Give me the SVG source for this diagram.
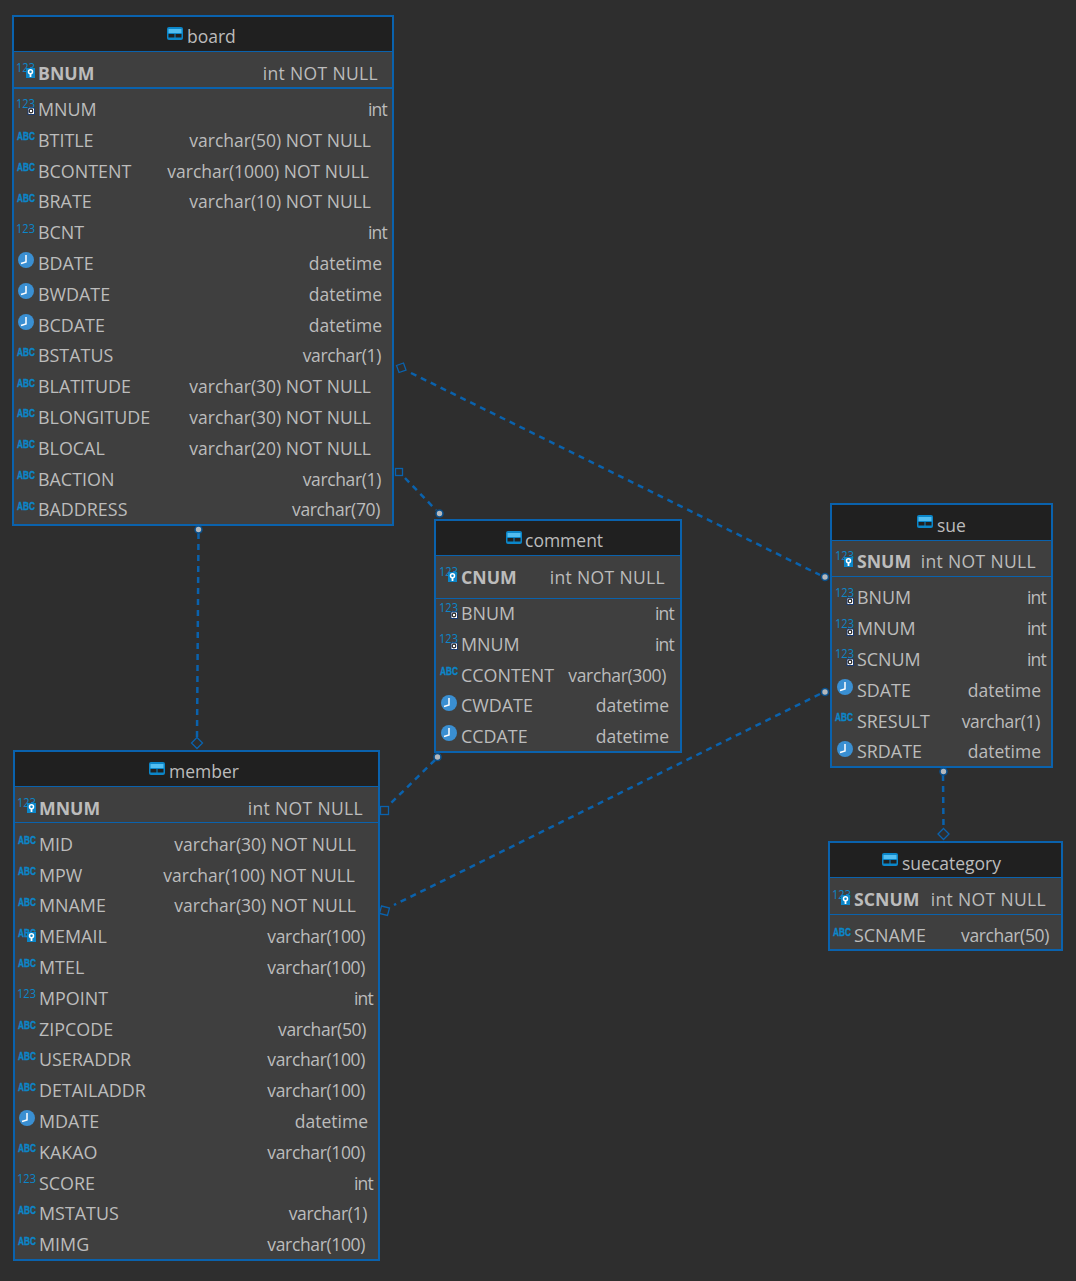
<svg xmlns="http://www.w3.org/2000/svg" width="1076" height="1281" viewBox="0 0 1076 1281">
<style>
text{font-family:"Open Sans","Noto Sans","Liberation Sans",sans-serif;font-size:17.5px;fill:#bcbcbc}
.f{font-size:17.9px}
.t{text-anchor:end}
.v{letter-spacing:-.36px}
.i{letter-spacing:-.8px}
.n{letter-spacing:.35px}
.pk{font-weight:700;font-size:17.7px}
.box{fill:#3f3f3f;stroke:#0a62ad;stroke-width:2}
.hd{fill:#202020}
.sep{stroke:#0a62ad;stroke-width:1.2;fill:none}
.ic{font-size:12px;fill:#0b86c9}
.ab{font-family:"Liberation Sans",sans-serif;font-size:10px;font-weight:700;fill:#0b86c9;stroke:#0b86c9;stroke-width:.35}
.conn{stroke:#0a62ad;stroke-width:2.500;stroke-dasharray:6 5;fill:none}
.end{stroke:#0a62ad;stroke-width:1.300;fill:none}
.dot{fill:#b4b8bc;stroke:#0a4f8a;stroke-width:1.600}
</style>
<defs>
<g id="tb"><rect x="0" y="0" width="16" height="13" rx="2" fill="#0b86c9"/><rect x="1.500" y="2" width="13" height="4" fill="#52bdf0"/><rect x="1.500" y="7" width="6" height="3.500" fill="#202020"/><rect x="8.500" y="7" width="6" height="3.500" fill="#202020"/></g>
<g id="n"><text class="ic" x="0" y="0" textLength="19" lengthAdjust="spacingAndGlyphs">123</text></g>
<g id="a"><text class="ab" x="0" y="0" textLength="18" lengthAdjust="spacingAndGlyphs">ABC</text></g>
<g id="k"><rect x="0" y="-1" width="9" height="10" fill="#0b86c9"/><circle cx="4.500" cy="2.800" r="2" fill="none" stroke="#fff" stroke-width="1.500"/><path d="M4.500 4.500v3.500" stroke="#fff" stroke-width="1.800"/></g>
<g id="f"><rect x="1" y="1" width="6.500" height="6.500" fill="#fff" stroke="#1a3a70"/><circle cx="4" cy="4" r="1.800" fill="none" stroke="#222" stroke-width="1.200"/></g>
<g id="c"><circle cx="8" cy="8" r="8" fill="#3a8fd2"/><path d="M8 3v7l-5 1.500" fill="none" stroke="#fff" stroke-width="1.500"/></g>
</defs>
<rect width="1076" height="1281" fill="#2e2e2e"/>
<g id="connectors">
<path class="conn" d="M411 373L820 575"/><path class="end" d="M396.500 365.500l7-2.500 2.500 7-7 2.500z"/><circle class="dot" cx="825" cy="577" r="3.500"/>
<path class="conn" d="M405 478L436 510"/><rect class="end" x="395.500" y="468.500" width="7" height="7"/><circle class="dot" cx="439.500" cy="513.500" r="3.500"/>
<path class="conn" d="M198.500 533L197 737"/><path class="end" d="M197 737.500l5.500 5.500-5.500 5.500-5.500-5.500z"/><circle class="dot" cx="198.500" cy="529.500" r="3.500"/>
<path class="conn" d="M435 760L389 805"/><rect class="end" x="380.500" y="806.500" width="8" height="8"/><circle class="dot" cx="437.500" cy="757" r="3.500"/>
<path class="conn" d="M820 694L394 905"/><path class="end" d="M381.500 906l8 2-2 7.500-8-2z"/><circle class="dot" cx="825" cy="692" r="3.500"/>
<path class="conn" d="M943 775L943.500 828"/><path class="end" d="M943.500 828.500l5.500 5.500-5.500 5.500-5.500-5.500z"/><circle class="dot" cx="943.500" cy="771.500" r="3.500"/>
</g>
<g id="board">
<rect class="box" x="13" y="16" width="380" height="509"/><rect class="hd" x="14" y="17" width="378" height="34"/><path class="sep" d="M14 51.500H392"/><path class="sep" style="stroke-width:2" d="M14 88H392"/>
<use href="#tb" x="167" y="27"/><text x="187" y="43">board</text>
<use href="#n" x="16" y="72"/><use href="#k" x="26" y="69"/><text class="pk" x="38" y="80">BNUM</text><text class="t n" x="378" y="80">int NOT NULL</text>
<use href="#n" x="16" y="108"/><use href="#f" x="27" y="107"/><text class="f" x="38" y="116">MNUM</text><text class="t i" x="387" y="116">int</text>
<use href="#a" x="17" y="140"/><text class="f" x="38" y="147">BTITLE</text><text class="t" x="371" y="147">varchar(50) NOT NULL</text>
<use href="#a" x="17" y="171"/><text class="f" x="38" y="178">BCONTENT</text><text class="t" x="369" y="178">varchar(1000) NOT NULL</text>
<use href="#a" x="17" y="202"/><text class="f" x="38" y="208">BRATE</text><text class="t" x="371" y="208">varchar(10) NOT NULL</text>
<use href="#n" x="16" y="233"/><text class="f" x="38" y="239">BCNT</text><text class="t i" x="387" y="239">int</text>
<use href="#c" x="18" y="252"/><text class="f" x="38" y="270">BDATE</text><text class="t" x="382" y="270">datetime</text>
<use href="#c" x="18" y="283"/><text class="f" x="38" y="301">BWDATE</text><text class="t" x="382" y="301">datetime</text>
<use href="#c" x="18" y="314"/><text class="f" x="38" y="332">BCDATE</text><text class="t" x="382" y="332">datetime</text>
<use href="#a" x="17" y="356"/><text class="f" x="38" y="362">BSTATUS</text><text class="t v" x="381" y="362">varchar(1)</text>
<use href="#a" x="17" y="387"/><text class="f" x="38" y="393">BLATITUDE</text><text class="t" x="371" y="393">varchar(30) NOT NULL</text>
<use href="#a" x="17" y="417"/><text class="f" x="38" y="424">BLONGITUDE</text><text class="t" x="371" y="424">varchar(30) NOT NULL</text>
<use href="#a" x="17" y="448"/><text class="f" x="38" y="455">BLOCAL</text><text class="t" x="371" y="455">varchar(20) NOT NULL</text>
<use href="#a" x="17" y="479"/><text class="f" x="38" y="486">BACTION</text><text class="t v" x="381" y="486">varchar(1)</text>
<use href="#a" x="17" y="510"/><text class="f" x="38" y="516">BADDRESS</text><text class="t v" x="380" y="516">varchar(70)</text>
</g>
<g id="comment">
<rect class="box" x="435" y="520" width="246" height="232"/><rect class="hd" x="436" y="521" width="244" height="34"/><path class="sep" d="M436 555.500H680M436 598.500H680"/>
<use href="#tb" x="506" y="531"/><text x="525" y="547">comment</text>
<use href="#n" x="439" y="576"/><use href="#k" x="448" y="573"/><text class="pk" x="461" y="584">CNUM</text><text class="t n" x="665" y="584">int NOT NULL</text>
<use href="#n" x="439" y="612"/><use href="#f" x="450" y="611"/><text class="f" x="461" y="620">BNUM</text><text class="t i" x="674" y="620">int</text>
<use href="#n" x="439" y="643"/><use href="#f" x="450" y="642"/><text class="f" x="461" y="651">MNUM</text><text class="t i" x="674" y="651">int</text>
<use href="#a" x="440" y="675"/><text class="f" x="461" y="682">CCONTENT</text><text class="t v" x="666" y="682">varchar(300)</text>
<use href="#c" x="441" y="695"/><text class="f" x="461" y="712">CWDATE</text><text class="t" x="669" y="712">datetime</text>
<use href="#c" x="441" y="725"/><text class="f" x="461" y="743">CCDATE</text><text class="t" x="669" y="743">datetime</text>
</g>
<g id="member">
<rect class="box" x="14" y="751" width="365" height="509"/><rect class="hd" x="15" y="752" width="363" height="34"/><path class="sep" d="M15 786.500H378M15 822.500H378"/>
<use href="#tb" x="149" y="762"/><text x="169" y="778">member</text>
<use href="#n" x="17" y="807"/><use href="#k" x="27" y="804"/><text class="pk" x="39" y="815">MNUM</text><text class="t n" x="363" y="815">int NOT NULL</text>
<use href="#a" x="18" y="844"/><text class="f" x="39" y="851">MID</text><text class="t" x="356" y="851">varchar(30) NOT NULL</text>
<use href="#a" x="18" y="875"/><text class="f" x="39" y="882">MPW</text><text class="t" x="355" y="882">varchar(100) NOT NULL</text>
<use href="#a" x="18" y="906"/><text class="f" x="39" y="912">MNAME</text><text class="t" x="356" y="912">varchar(30) NOT NULL</text>
<use href="#a" x="18" y="937"/><use href="#k" x="27" y="933"/><text class="f" x="39" y="943">MEMAIL</text><text class="t v" x="365" y="943">varchar(100)</text>
<use href="#a" x="18" y="967"/><text class="f" x="39" y="974">MTEL</text><text class="t v" x="365" y="974">varchar(100)</text>
<use href="#n" x="17" y="998"/><text class="f" x="39" y="1005">MPOINT</text><text class="t i" x="373" y="1005">int</text>
<use href="#a" x="18" y="1029"/><text class="f" x="39" y="1036">ZIPCODE</text><text class="t v" x="366" y="1036">varchar(50)</text>
<use href="#a" x="18" y="1060"/><text class="f" x="39" y="1066">USERADDR</text><text class="t v" x="365" y="1066">varchar(100)</text>
<use href="#a" x="18" y="1091"/><text class="f" x="39" y="1097">DETAILADDR</text><text class="t v" x="365" y="1097">varchar(100)</text>
<use href="#c" x="19" y="1110"/><text class="f" x="39" y="1128">MDATE</text><text class="t" x="368" y="1128">datetime</text>
<use href="#a" x="18" y="1152"/><text class="f" x="39" y="1159">KAKAO</text><text class="t v" x="365" y="1159">varchar(100)</text>
<use href="#n" x="17" y="1183"/><text class="f" x="39" y="1190">SCORE</text><text class="t i" x="373" y="1190">int</text>
<use href="#a" x="18" y="1214"/><text class="f" x="39" y="1220">MSTATUS</text><text class="t v" x="367" y="1220">varchar(1)</text>
<use href="#a" x="18" y="1245"/><text class="f" x="39" y="1251">MIMG</text><text class="t v" x="365" y="1251">varchar(100)</text>
</g>
<g id="sue">
<rect class="box" x="831" y="504" width="221" height="263"/><rect class="hd" x="832" y="505" width="219" height="35"/><path class="sep" d="M832 540.500H1051M832 576.500H1051"/>
<use href="#tb" x="917" y="515"/><text x="937" y="532">sue</text>
<use href="#n" x="835" y="560"/><use href="#k" x="844" y="558"/><text class="pk" x="857" y="568">SNUM</text><text class="t n" x="1036" y="568">int NOT NULL</text>
<use href="#n" x="835" y="597"/><use href="#f" x="846" y="597"/><text class="f" x="857" y="604">BNUM</text><text class="t i" x="1046" y="604">int</text>
<use href="#n" x="835" y="628"/><use href="#f" x="846" y="628"/><text class="f" x="857" y="635">MNUM</text><text class="t i" x="1046" y="635">int</text>
<use href="#n" x="835" y="658"/><use href="#f" x="846" y="658"/><text class="f" x="857" y="666">SCNUM</text><text class="t i" x="1046" y="666">int</text>
<use href="#c" x="837" y="679"/><text class="f" x="857" y="697">SDATE</text><text class="t" x="1041" y="697">datetime</text>
<use href="#a" x="835" y="721"/><text class="f" x="857" y="728">SRESULT</text><text class="t v" x="1040" y="728">varchar(1)</text>
<use href="#c" x="837" y="741"/><text class="f" x="857" y="758">SRDATE</text><text class="t" x="1041" y="758">datetime</text>
</g>
<g id="suecategory">
<rect class="box" x="829" y="842" width="233" height="108"/><rect class="hd" x="830" y="843" width="231" height="34"/><path class="sep" d="M830 877.500H1061M830 914.500H1061"/>
<use href="#tb" x="882" y="853"/><text x="902" y="870">suecategory</text>
<use href="#n" x="832" y="899"/><use href="#k" x="841" y="896"/><text class="pk" x="854" y="906">SCNUM</text><text class="t n" x="1046" y="906">int NOT NULL</text>
<use href="#a" x="833" y="936"/><text class="f" x="854" y="942">SCNAME</text><text class="t v" x="1049" y="942">varchar(50)</text>
</g>
</svg>
